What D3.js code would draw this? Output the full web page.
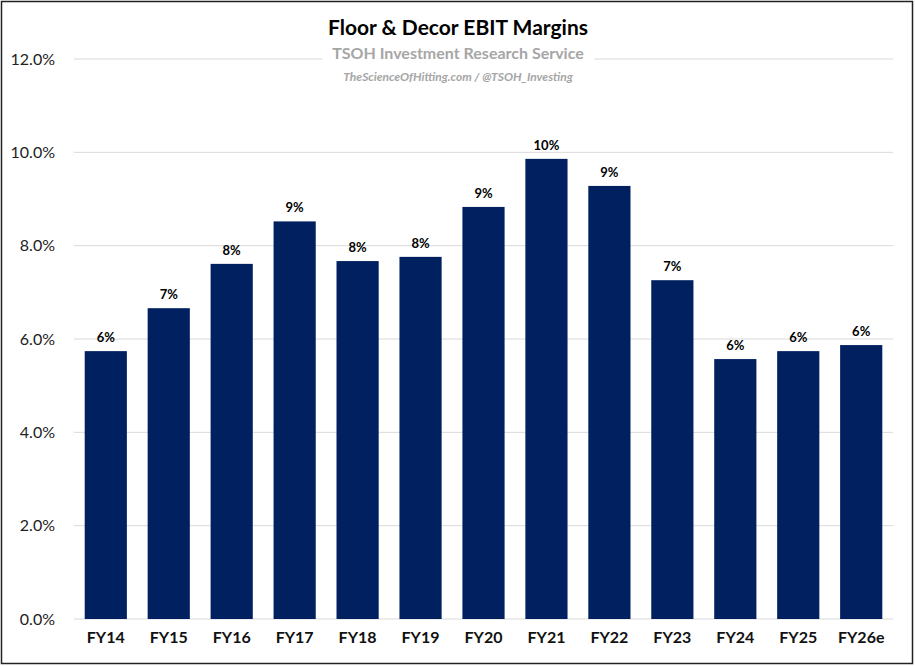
<!DOCTYPE html>
<html>
<head>
<meta charset="utf-8">
<script src="https://cdn.jsdelivr.net/npm/d3@7"></script>
<style>
  body { margin: 0; background: #fff; }
  text { font-family: Lato, "Open Sans", sans-serif; }
</style>
</head>
<body>
<div id="chart"></div>
<script>
const years = ['FY14', 'FY15', 'FY16', 'FY17', 'FY18', 'FY19', 'FY20', 'FY21', 'FY22', 'FY23', 'FY24', 'FY25', 'FY26e'];
const margins = [5.74, 6.66, 7.61, 8.52, 7.67, 7.76, 8.83, 9.86, 9.28, 7.26, 5.57, 5.74, 5.87];
const yTicks = [0, 2, 4, 6, 8, 10, 12];

const WIDTH = 915;
const HEIGHT = 666;
const m = { top: 59, right: 22, bottom: 47, left: 74 };

const svg = d3.select('#chart').append('svg').attr('width', WIDTH).attr('height', HEIGHT);

// cadre
svg.append('rect')
  .attr('x', 1.5).attr('y', 1.5)
  .attr('width', WIDTH - 4).attr('height', HEIGHT - 4)
  .attr('fill', 'white').attr('stroke', '#222').attr('stroke-width', 1.5);

const x = d3.scaleBand()
  .domain(years)
  .range([m.left, WIDTH - m.right])
  .paddingInner(0.33)
  .paddingOuter(0.17);

const y = d3.scaleLinear()
  .domain([0, 12])
  .range([HEIGHT - m.bottom, m.top]);

// grille
svg.append('g')
  .selectAll('line')
  .data(yTicks)
  .enter()
  .append('line')
  .attr('x1', m.left).attr('x2', WIDTH - m.right)
  .attr('y1', d => y(d)).attr('y2', d => y(d))
  .attr('stroke', '#d9d9d9').attr('stroke-width', 1);

// axe y
const yAxis = svg.append('g')
  .attr('transform', `translate(${m.left - 16},0)`)
  .call(d3.axisLeft(y).tickValues(yTicks).tickSize(0).tickFormat(d => d.toFixed(1) + '%'));
yAxis.select('.domain').remove();
yAxis.selectAll('text')
  .attr('font-size', 16).attr('fill', '#222')
  .style('font-family', 'Lato, sans-serif');

// barres
svg.selectAll('rect.bar')
  .data(margins)
  .enter()
  .append('rect')
  .attr('class', 'bar')
  .attr('x', (d, i) => x(years[i]))
  .attr('y', d => y(d))
  .attr('width', x.bandwidth())
  .attr('height', d => y(0) - y(d))
  .attr('fill', '#002060');

// étiquettes
svg.selectAll('text.lbl')
  .data(margins)
  .enter()
  .append('text')
  .attr('class', 'lbl')
  .attr('x', (d, i) => x(years[i]) + x.bandwidth() / 2)
  .attr('y', d => y(d) - 9)
  .attr('text-anchor', 'middle')
  .attr('font-size', 13).attr('font-weight', 'bold')
  .text(d => Math.round(d) + '%');

// axe x
const xAxis = svg.append('g')
  .attr('transform', `translate(0,${y(0)})`)
  .call(d3.axisBottom(x).tickSize(0).tickPadding(13));
xAxis.select('.domain').remove();
xAxis.selectAll('text')
  .attr('font-size', 16).attr('font-weight', 'bold').attr('fill', '#111')
  .style('font-family', 'Lato, sans-serif');

// titres
const cx = 458;
const sub = svg.append('text')
  .attr('x', cx).attr('y', 59)
  .attr('text-anchor', 'middle')
  .attr('font-size', 16).attr('font-weight', 'bold').attr('fill', '#a6a6a6')
  .text('TSOH Investment Research Service');
const bb = sub.node().getBBox();
svg.insert('rect', () => sub.node())
  .attr('x', bb.x - 10).attr('y', bb.y).attr('width', bb.width + 20).attr('height', bb.height)
  .attr('fill', 'white');

svg.append('text')
  .attr('x', cx).attr('y', 35)
  .attr('text-anchor', 'middle')
  .attr('font-size', 21).attr('font-weight', 'bold').attr('fill', '#000')
  .text('Floor & Decor EBIT Margins');

svg.append('text')
  .attr('x', cx).attr('y', 81)
  .attr('text-anchor', 'middle')
  .attr('font-size', 12).attr('font-weight', 'bold').attr('font-style', 'italic').attr('fill', '#a6a6a6')
  .text('TheScienceOfHitting.com / @TSOH_Investing');
</script>
</body>
</html>
